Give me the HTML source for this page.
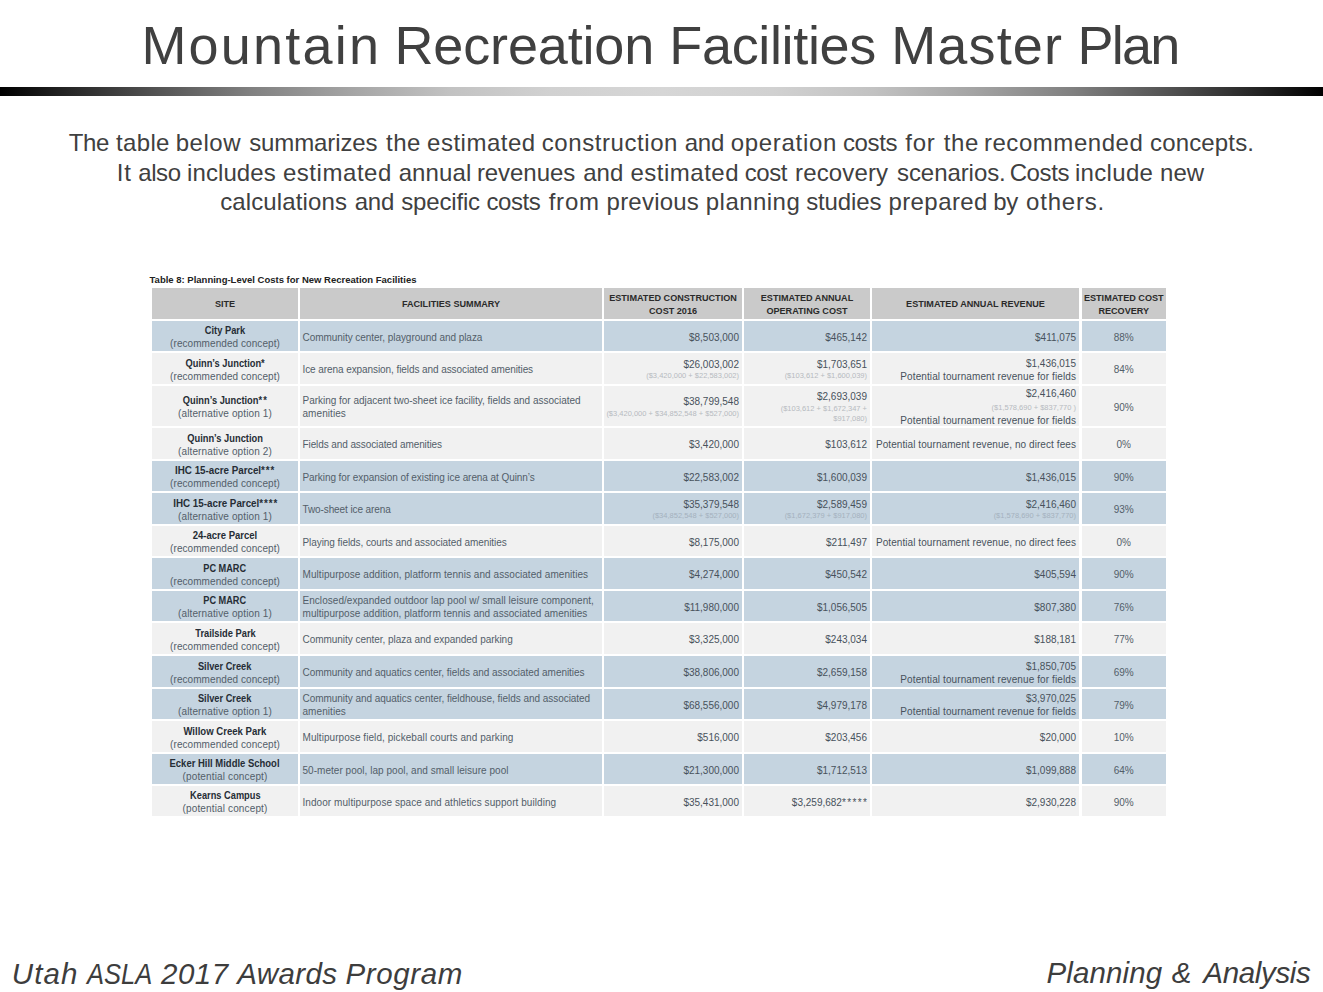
<!DOCTYPE html>
<html><head><meta charset="utf-8"><title>Mountain Recreation Facilities Master Plan</title>
<style>
html,body{margin:0;padding:0;background:#fff}
body{width:1323px;height:992px;position:relative;overflow:hidden;font-family:"Liberation Sans",sans-serif;color:#3f3f3f}
.title{position:absolute;left:0;top:13px;width:1323px;height:64px;font-size:54px;line-height:64px;white-space:nowrap;color:#404040}
.title span{position:absolute;top:0}
.bar{position:absolute;left:0;top:87px;width:1323px;height:9px;background:linear-gradient(to right,#000 0px,#1c1c1c 50px,#363636 100px,#505050 150px,#808080 250px,#a4a4a4 350px,#c2c2c2 450px,#d1d1d1 550px,#d6d6d6 661.5px,#d1d1d1 773px,#c2c2c2 873px,#a4a4a4 973px,#808080 1073px,#505050 1173px,#363636 1223px,#1c1c1c 1273px,#000 1323px)}
.p{position:absolute;left:0;width:1323px;height:30px;font-size:24px;line-height:30px;white-space:nowrap;color:#404040}
.p span{position:absolute;top:0}
.foot{position:absolute;font-size:29.5px;font-style:italic;line-height:34px;white-space:nowrap;color:#3d3d3d}
.cap{position:absolute;left:149.5px;top:273.7px;font-size:9.5px;line-height:12px;font-weight:700;color:#222;white-space:nowrap}
.c{position:absolute;display:flex;align-items:center;box-sizing:border-box;padding-top:2px;font-size:10px;line-height:13px;color:#535e69;white-space:nowrap}
.c>div{width:100%}
.h{padding-top:2.6px;background:#cacaca;color:#2a2a2a;font-weight:700;font-size:9.1px;line-height:13px;text-align:center}
.b{background:#c5d4e0}
.l{background:#f1f1f1}
.site{text-align:center}
.site b{display:inline-block;font-size:10.6px;line-height:13px;color:#262d35;transform-origin:50% 50%;vertical-align:baseline}
.site b i{font-style:normal}
.fs{padding-left:2.5px}
.n{text-align:right;padding-right:3px;color:#48525c}
.b .s{color:#a4b1be}
.pc{text-align:center}
.as{letter-spacing:1.4px;margin-right:-1.4px}
.pt{letter-spacing:0.1px}
.pn{letter-spacing:0.075px}
.s.s2{margin-top:3px;margin-bottom:0.8px}
.s{display:block;font-size:7.5px;color:#b6babf;line-height:10px;margin-top:0.3px}
</style></head>
<body>
<div class="title"><span style="left:141.4px;letter-spacing:2.213px">Mountain </span><span style="left:394.5px;letter-spacing:-0.156px">Recreation </span><span style="left:669.3px;letter-spacing:-0.338px">Facilities </span><span style="left:891.2px;letter-spacing:1.15px">Master </span><span style="left:1077.6px;letter-spacing:-1.816px">Plan </span></div>
<div class="bar"></div>
<div class="p" style="top:128px"><span style="left:68.72px;letter-spacing:-0.400px">The </span><span style="left:116.10px;letter-spacing:0.332px">table </span><span style="left:175.70px;letter-spacing:0.525px">below </span><span style="left:249.22px;letter-spacing:-0.114px">summarizes </span><span style="left:386.10px;letter-spacing:0.405px">the </span><span style="left:427.05px;letter-spacing:0.506px">estimated </span><span style="left:541.75px;letter-spacing:0.573px">construction </span><span style="left:684.65px;letter-spacing:-0.173px">and </span><span style="left:730.75px;letter-spacing:0.690px">operation </span><span style="left:842.99px;letter-spacing:-0.400px">costs </span><span style="left:905.21px;letter-spacing:0.800px">for </span><span style="left:943.70px;letter-spacing:0.655px">the </span><span style="left:983.90px;letter-spacing:0.554px">recommended </span><span style="left:1150.05px;letter-spacing:0.149px">concepts. </span></div>
<div class="p" style="top:157.5px"><span style="left:116.70px;letter-spacing:0.800px">It </span><span style="left:138.20px;letter-spacing:-0.400px">also </span><span style="left:187.00px;letter-spacing:0.099px">includes </span><span style="left:282.95px;letter-spacing:0.543px">estimated </span><span style="left:398.65px;letter-spacing:0.112px">annual </span><span style="left:476.90px;letter-spacing:-0.054px">revenues </span><span style="left:583.25px;letter-spacing:-0.023px">and </span><span style="left:630.45px;letter-spacing:0.506px">estimated </span><span style="left:744.72px;letter-spacing:-0.400px">cost </span><span style="left:795.10px;letter-spacing:0.139px">recovery </span><span style="left:897.02px;letter-spacing:-0.071px">scenarios. </span><span style="left:1009.70px;letter-spacing:-0.400px">Costs </span><span style="left:1074.90px;letter-spacing:0.336px">include </span><span style="left:1160.00px;letter-spacing:0.040px">new </span></div>
<div class="p" style="top:187px"><span style="left:220.15px;letter-spacing:0.136px">calculations </span><span style="left:354.75px;letter-spacing:-0.273px">and </span><span style="left:401.22px;letter-spacing:-0.168px">specific </span><span style="left:486.44px;letter-spacing:-0.400px">costs </span><span style="left:548.67px;letter-spacing:0.800px">from </span><span style="left:606.60px;letter-spacing:0.219px">previous </span><span style="left:705.80px;letter-spacing:0.457px">planning </span><span style="left:806.22px;letter-spacing:-0.136px">studies </span><span style="left:888.40px;letter-spacing:0.425px">prepared </span><span style="left:993.37px;letter-spacing:-0.400px">by </span><span style="left:1026.07px;letter-spacing:0.800px">others. </span></div>
<div class="cap">Table 8: Planning-Level Costs for New Recreation Facilities</div>
<div class="c h" style="left:152px;top:288px;width:146.0px;height:31.0px"><div>SITE</div></div>
<div class="c h" style="left:300px;top:288px;width:302.0px;height:31.0px"><div>FACILITIES SUMMARY</div></div>
<div class="c h" style="left:604px;top:288px;width:138.0px;height:31.0px"><div>ESTIMATED CONSTRUCTION<br>COST 2016</div></div>
<div class="c h" style="left:744px;top:288px;width:126.0px;height:31.0px"><div>ESTIMATED ANNUAL<br>OPERATING COST</div></div>
<div class="c h" style="left:872px;top:288px;width:207.0px;height:31.0px"><div>ESTIMATED ANNUAL REVENUE</div></div>
<div class="c h" style="left:1081.5px;top:288px;width:84.5px;height:31.0px"><div>ESTIMATED COST<br>RECOVERY</div></div>
<div class="c b site" style="left:152px;top:321px;width:146.0px;height:30.0px"><div><b style="transform:scaleX(0.8790)">City Park</b><br><span style="letter-spacing:0.068px">(recommended concept)</span></div></div>
<div class="c b fs" style="left:300px;top:321px;width:302.0px;height:30.0px"><div><span style="letter-spacing:-0.051px">Community center, playground and plaza</span></div></div>
<div class="c b n" style="left:604px;top:321px;width:138.0px;height:30.0px"><div>$8,503,000</div></div>
<div class="c b n" style="left:744px;top:321px;width:126.0px;height:30.0px"><div>$465,142</div></div>
<div class="c b n" style="left:872px;top:321px;width:207.0px;height:30.0px"><div>$411,075</div></div>
<div class="c b pc" style="left:1081.5px;top:321px;width:84.5px;height:30.0px"><div>88%</div></div>
<div class="c l site" style="left:152px;top:353px;width:146.0px;height:31.0px"><div><b style="transform:scaleX(0.8780)">Quinn’s Junction<i style="letter-spacing:1.23px;margin-right:-1.23px">*</i></b><br><span style="letter-spacing:0.068px">(recommended concept)</span></div></div>
<div class="c l fs" style="left:300px;top:353px;width:302.0px;height:31.0px"><div><span style="letter-spacing:-0.078px">Ice arena expansion, fields and associated amenities</span></div></div>
<div class="c l n" style="left:604px;top:353px;width:138.0px;height:31.0px"><div>$26,003,002<span class="s">($3,420,000 + $22,583,002)</span></div></div>
<div class="c l n" style="left:744px;top:353px;width:126.0px;height:31.0px"><div>$1,703,651<span class="s">($103,612 + $1,600,039)</span></div></div>
<div class="c l n" style="left:872px;top:353px;width:207.0px;height:31.0px"><div>$1,436,015<br><span class=pt>Potential tournament revenue for fields</span></div></div>
<div class="c l pc" style="left:1081.5px;top:353px;width:84.5px;height:31.0px"><div>84%</div></div>
<div class="c l site" style="left:152px;top:386px;width:146.0px;height:40.0px"><div><b style="transform:scaleX(0.8780)">Quinn’s Junction<i style="letter-spacing:1.23px;margin-right:-1.23px">**</i></b><br><span style="letter-spacing:0.128px">(alternative option 1)</span></div></div>
<div class="c l fs" style="left:300px;top:386px;width:302.0px;height:40.0px"><div><span style="letter-spacing:-0.021px">Parking for adjacent two-sheet ice facility, fields and associated</span><br><span style="letter-spacing:0.061px">amenities</span></div></div>
<div class="c l n" style="left:604px;top:386px;width:138.0px;height:40.0px"><div>$38,799,548<span class="s">($3,420,000 + $34,852,548 + $527,000)</span></div></div>
<div class="c l n" style="left:744px;top:386px;width:126.0px;height:40.0px"><div>$2,693,039<span class="s">($103,612 + $1,672,347 +<br>$917,080)</span></div></div>
<div class="c l n" style="left:872px;top:386px;width:207.0px;height:40.0px"><div>$2,416,460<span class="s s2">($1,578,690 + $837,770 )</span><span class=pt>Potential tournament revenue for fields</span></div></div>
<div class="c l pc" style="left:1081.5px;top:386px;width:84.5px;height:40.0px"><div>90%</div></div>
<div class="c l site" style="left:152px;top:428px;width:146.0px;height:31.0px"><div><b style="transform:scaleX(0.8780)">Quinn’s Junction</b><br><span style="letter-spacing:0.128px">(alternative option 2)</span></div></div>
<div class="c l fs" style="left:300px;top:428px;width:302.0px;height:31.0px"><div><span style="letter-spacing:-0.092px">Fields and associated amenities</span></div></div>
<div class="c l n" style="left:604px;top:428px;width:138.0px;height:31.0px"><div>$3,420,000</div></div>
<div class="c l n" style="left:744px;top:428px;width:126.0px;height:31.0px"><div>$103,612</div></div>
<div class="c l n" style="left:872px;top:428px;width:207.0px;height:31.0px"><div><span class=pn>Potential tournament revenue, no direct fees</span></div></div>
<div class="c l pc" style="left:1081.5px;top:428px;width:84.5px;height:31.0px"><div>0%</div></div>
<div class="c b site" style="left:152px;top:461px;width:146.0px;height:30.0px"><div><b style="transform:scaleX(0.9246)">IHC 15-acre Parcel<i style="letter-spacing:0.96px;margin-right:-0.96px">***</i></b><br><span style="letter-spacing:0.068px">(recommended concept)</span></div></div>
<div class="c b fs" style="left:300px;top:461px;width:302.0px;height:30.0px"><div><span style="letter-spacing:-0.072px">Parking for expansion of existing ice arena at Quinn’s</span></div></div>
<div class="c b n" style="left:604px;top:461px;width:138.0px;height:30.0px"><div>$22,583,002</div></div>
<div class="c b n" style="left:744px;top:461px;width:126.0px;height:30.0px"><div>$1,600,039</div></div>
<div class="c b n" style="left:872px;top:461px;width:207.0px;height:30.0px"><div>$1,436,015</div></div>
<div class="c b pc" style="left:1081.5px;top:461px;width:84.5px;height:30.0px"><div>90%</div></div>
<div class="c b site" style="left:152px;top:493px;width:146.0px;height:31.0px"><div><b style="transform:scaleX(0.9246)">IHC 15-acre Parcel<i style="letter-spacing:0.96px;margin-right:-0.96px">****</i></b><br><span style="letter-spacing:0.128px">(alternative option 1)</span></div></div>
<div class="c b fs" style="left:300px;top:493px;width:302.0px;height:31.0px"><div><span style="letter-spacing:-0.103px">Two-sheet ice arena</span></div></div>
<div class="c b n" style="left:604px;top:493px;width:138.0px;height:31.0px"><div>$35,379,548<span class="s">($34,852,548 + $527,000)</span></div></div>
<div class="c b n" style="left:744px;top:493px;width:126.0px;height:31.0px"><div>$2,589,459<span class="s">($1,672,379 + $917,080)</span></div></div>
<div class="c b n" style="left:872px;top:493px;width:207.0px;height:31.0px"><div>$2,416,460<span class="s">($1,578,690 + $837,770)</span></div></div>
<div class="c b pc" style="left:1081.5px;top:493px;width:84.5px;height:31.0px"><div>93%</div></div>
<div class="c l site" style="left:152px;top:526px;width:146.0px;height:30.0px"><div><b style="transform:scaleX(0.8986)">24-acre Parcel</b><br><span style="letter-spacing:0.068px">(recommended concept)</span></div></div>
<div class="c l fs" style="left:300px;top:526px;width:302.0px;height:30.0px"><div><span style="letter-spacing:-0.068px">Playing fields, courts and associated amenities</span></div></div>
<div class="c l n" style="left:604px;top:526px;width:138.0px;height:30.0px"><div>$8,175,000</div></div>
<div class="c l n" style="left:744px;top:526px;width:126.0px;height:30.0px"><div>$211,497</div></div>
<div class="c l n" style="left:872px;top:526px;width:207.0px;height:30.0px"><div><span class=pn>Potential tournament revenue, no direct fees</span></div></div>
<div class="c l pc" style="left:1081.5px;top:526px;width:84.5px;height:30.0px"><div>0%</div></div>
<div class="c b site" style="left:152px;top:558px;width:146.0px;height:31.0px"><div><b style="transform:scaleX(0.8660)">PC MARC</b><br><span style="letter-spacing:0.068px">(recommended concept)</span></div></div>
<div class="c b fs" style="left:300px;top:558px;width:302.0px;height:31.0px"><div><span style="letter-spacing:0.06px">Multipurpose addition, platform tennis and associated amenities</span></div></div>
<div class="c b n" style="left:604px;top:558px;width:138.0px;height:31.0px"><div>$4,274,000</div></div>
<div class="c b n" style="left:744px;top:558px;width:126.0px;height:31.0px"><div>$450,542</div></div>
<div class="c b n" style="left:872px;top:558px;width:207.0px;height:31.0px"><div>$405,594</div></div>
<div class="c b pc" style="left:1081.5px;top:558px;width:84.5px;height:31.0px"><div>90%</div></div>
<div class="c b site" style="left:152px;top:591px;width:146.0px;height:30.0px"><div><b style="transform:scaleX(0.8660)">PC MARC</b><br><span style="letter-spacing:0.128px">(alternative option 1)</span></div></div>
<div class="c b fs" style="left:300px;top:591px;width:302.0px;height:30.0px"><div><span style="letter-spacing:0.047px">Enclosed/expanded outdoor lap pool w/ small leisure component,</span><br><span style="letter-spacing:0.049px">multipurpose addition, platform tennis and associated amenities</span></div></div>
<div class="c b n" style="left:604px;top:591px;width:138.0px;height:30.0px"><div>$11,980,000</div></div>
<div class="c b n" style="left:744px;top:591px;width:126.0px;height:30.0px"><div>$1,056,505</div></div>
<div class="c b n" style="left:872px;top:591px;width:207.0px;height:30.0px"><div>$807,380</div></div>
<div class="c b pc" style="left:1081.5px;top:591px;width:84.5px;height:30.0px"><div>76%</div></div>
<div class="c l site" style="left:152px;top:623px;width:146.0px;height:31.0px"><div><b style="transform:scaleX(0.8778)">Trailside Park</b><br><span style="letter-spacing:0.068px">(recommended concept)</span></div></div>
<div class="c l fs" style="left:300px;top:623px;width:302.0px;height:31.0px"><div><span style="letter-spacing:-0.037px">Community center, plaza and expanded parking</span></div></div>
<div class="c l n" style="left:604px;top:623px;width:138.0px;height:31.0px"><div>$3,325,000</div></div>
<div class="c l n" style="left:744px;top:623px;width:126.0px;height:31.0px"><div>$243,034</div></div>
<div class="c l n" style="left:872px;top:623px;width:207.0px;height:31.0px"><div>$188,181</div></div>
<div class="c l pc" style="left:1081.5px;top:623px;width:84.5px;height:31.0px"><div>77%</div></div>
<div class="c b site" style="left:152px;top:656px;width:146.0px;height:31.0px"><div><b style="transform:scaleX(0.8726)">Silver Creek</b><br><span style="letter-spacing:0.068px">(recommended concept)</span></div></div>
<div class="c b fs" style="left:300px;top:656px;width:302.0px;height:31.0px"><div><span style="letter-spacing:-0.042px">Community and aquatics center, fields and associated amenities</span></div></div>
<div class="c b n" style="left:604px;top:656px;width:138.0px;height:31.0px"><div>$38,806,000</div></div>
<div class="c b n" style="left:744px;top:656px;width:126.0px;height:31.0px"><div>$2,659,158</div></div>
<div class="c b n" style="left:872px;top:656px;width:207.0px;height:31.0px"><div>$1,850,705<br><span class=pt>Potential tournament revenue for fields</span></div></div>
<div class="c b pc" style="left:1081.5px;top:656px;width:84.5px;height:31.0px"><div>69%</div></div>
<div class="c b site" style="left:152px;top:689px;width:146.0px;height:30.0px"><div><b style="transform:scaleX(0.8726)">Silver Creek</b><br><span style="letter-spacing:0.128px">(alternative option 1)</span></div></div>
<div class="c b fs" style="left:300px;top:689px;width:302.0px;height:30.0px"><div><span style="letter-spacing:-0.04px">Community and aquatics center, fieldhouse, fields and associated</span><br><span style="letter-spacing:0.061px">amenities</span></div></div>
<div class="c b n" style="left:604px;top:689px;width:138.0px;height:30.0px"><div>$68,556,000</div></div>
<div class="c b n" style="left:744px;top:689px;width:126.0px;height:30.0px"><div>$4,979,178</div></div>
<div class="c b n" style="left:872px;top:689px;width:207.0px;height:30.0px"><div>$3,970,025<br><span class=pt>Potential tournament revenue for fields</span></div></div>
<div class="c b pc" style="left:1081.5px;top:689px;width:84.5px;height:30.0px"><div>79%</div></div>
<div class="c l site" style="left:152px;top:721px;width:146.0px;height:31.0px"><div><b style="transform:scaleX(0.9036)">Willow Creek Park</b><br><span style="letter-spacing:0.068px">(recommended concept)</span></div></div>
<div class="c l fs" style="left:300px;top:721px;width:302.0px;height:31.0px"><div><span style="letter-spacing:0.063px">Multipurpose field, pickeball courts and parking</span></div></div>
<div class="c l n" style="left:604px;top:721px;width:138.0px;height:31.0px"><div>$516,000</div></div>
<div class="c l n" style="left:744px;top:721px;width:126.0px;height:31.0px"><div>$203,456</div></div>
<div class="c l n" style="left:872px;top:721px;width:207.0px;height:31.0px"><div>$20,000</div></div>
<div class="c l pc" style="left:1081.5px;top:721px;width:84.5px;height:31.0px"><div>10%</div></div>
<div class="c b site" style="left:152px;top:754px;width:146.0px;height:30.0px"><div><b style="transform:scaleX(0.8939)">Ecker Hill Middle School</b><br><span style="letter-spacing:0.143px">(potential concept)</span></div></div>
<div class="c b fs" style="left:300px;top:754px;width:302.0px;height:30.0px"><div><span style="letter-spacing:0.03px">50-meter pool, lap pool, and small leisure pool</span></div></div>
<div class="c b n" style="left:604px;top:754px;width:138.0px;height:30.0px"><div>$21,300,000</div></div>
<div class="c b n" style="left:744px;top:754px;width:126.0px;height:30.0px"><div>$1,712,513</div></div>
<div class="c b n" style="left:872px;top:754px;width:207.0px;height:30.0px"><div>$1,099,888</div></div>
<div class="c b pc" style="left:1081.5px;top:754px;width:84.5px;height:30.0px"><div>64%</div></div>
<div class="c l site" style="left:152px;top:786px;width:146.0px;height:30.0px"><div><b style="transform:scaleX(0.8742)">Kearns Campus</b><br><span style="letter-spacing:0.143px">(potential concept)</span></div></div>
<div class="c l fs" style="left:300px;top:786px;width:302.0px;height:30.0px"><div><span style="letter-spacing:0.063px">Indoor multipurpose space and athletics support building</span></div></div>
<div class="c l n" style="left:604px;top:786px;width:138.0px;height:30.0px"><div>$35,431,000</div></div>
<div class="c l n" style="left:744px;top:786px;width:126.0px;height:30.0px"><div>$3,259,682<span class=as>*****</span></div></div>
<div class="c l n" style="left:872px;top:786px;width:207.0px;height:30.0px"><div>$2,930,228</div></div>
<div class="c l pc" style="left:1081.5px;top:786px;width:84.5px;height:30.0px"><div>90%</div></div>
<span class="foot" style="left:11.76px;top:957.4px;letter-spacing:1.109px">Utah</span><span class="foot" style="left:86.89px;top:957.4px;transform:scaleX(0.8653);transform-origin:0 50%">ASLA</span><span class="foot" style="left:160.96px;top:957.4px;letter-spacing:0.535px">2017</span><span class="foot" style="left:237.24px;top:957.4px;letter-spacing:0.377px">Awards</span><span class="foot" style="left:345.44px;top:957.4px;letter-spacing:0.618px">Program</span>
<span class="foot" style="left:1046.54px;top:955.8px;letter-spacing:0.108px">Planning</span><span class="foot" style="left:1171.64px;top:955.8px;letter-spacing:0px">&amp;</span><span class="foot" style="left:1203.34px;top:955.8px;letter-spacing:-0.333px">Analysis</span>
</body></html>
